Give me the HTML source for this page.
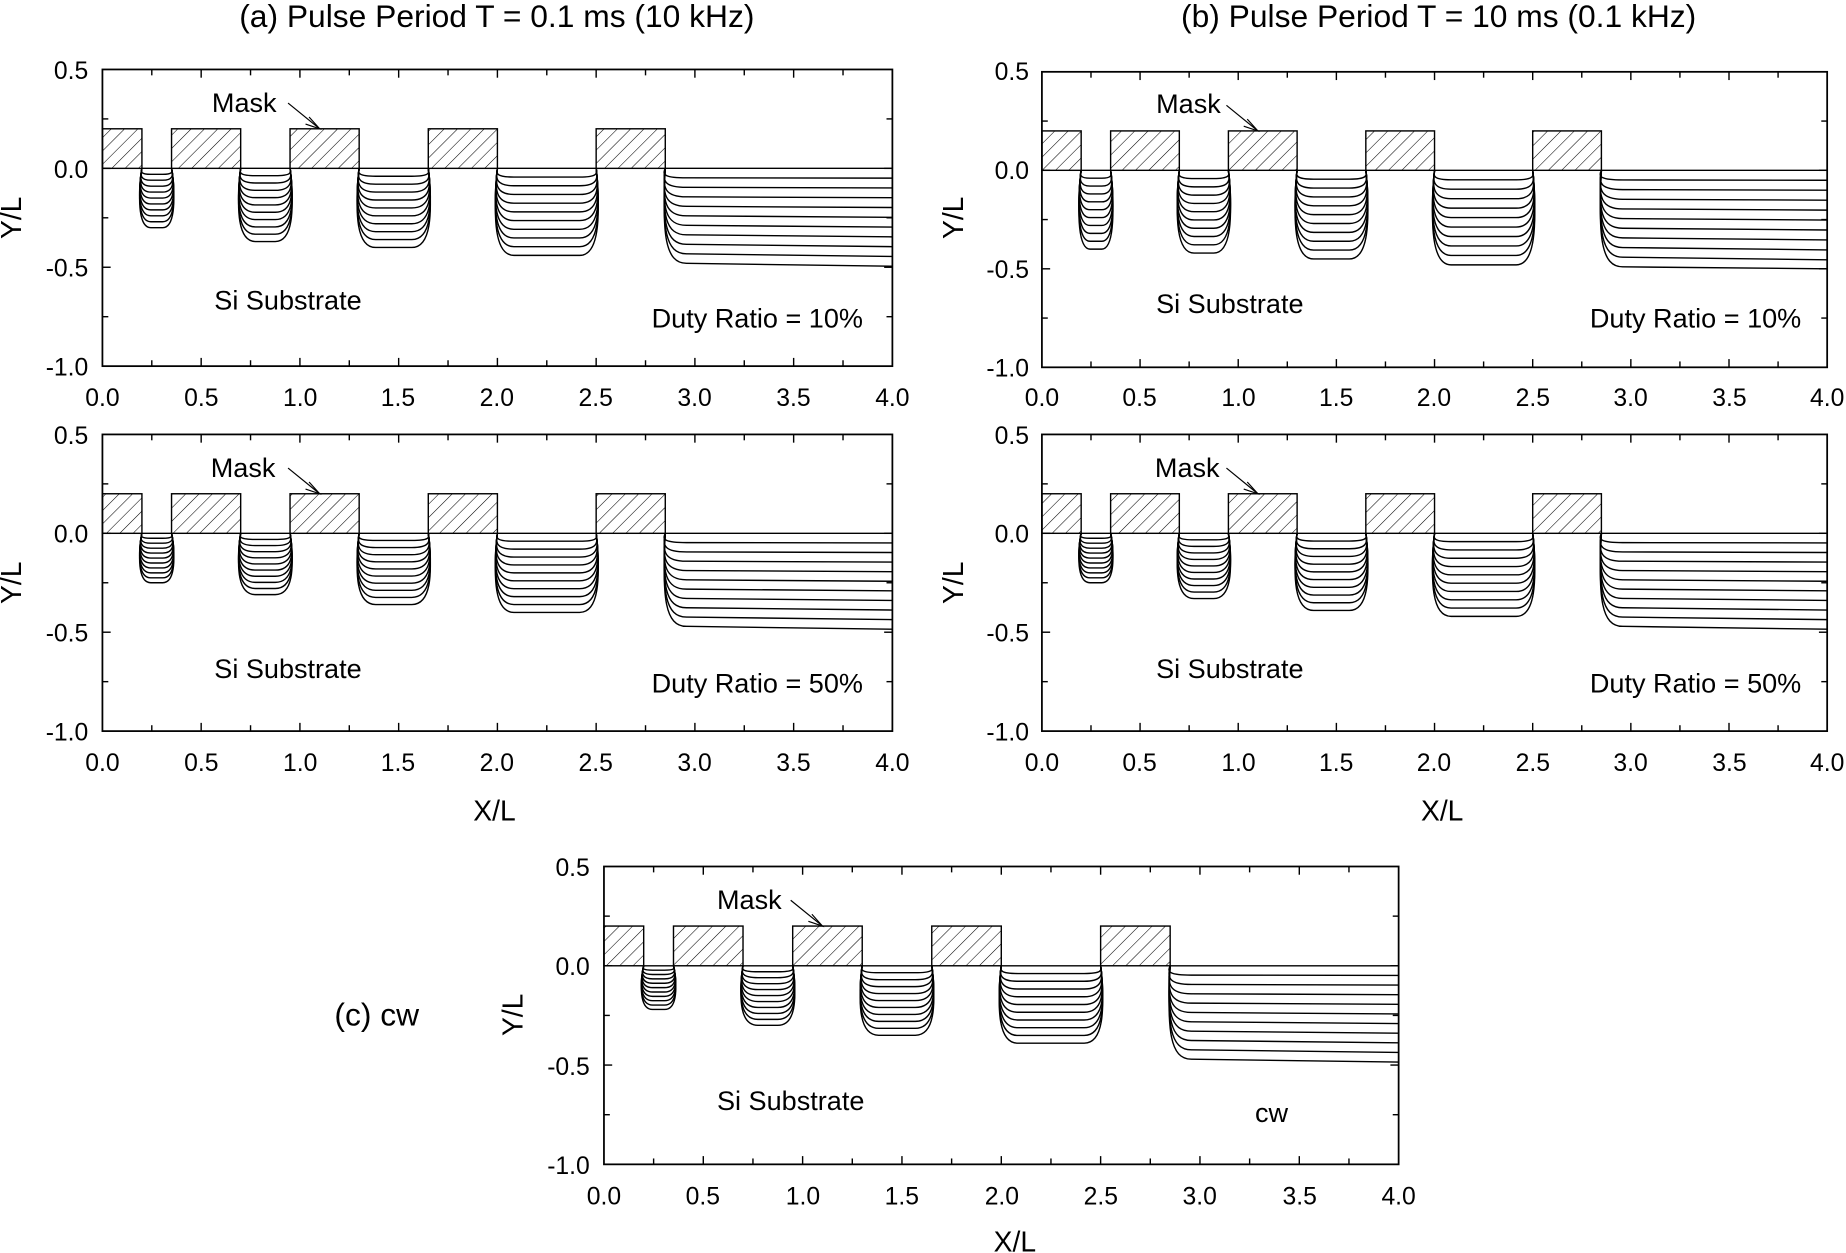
<!DOCTYPE html>
<html><head><meta charset="utf-8">
<style>
html,body{margin:0;padding:0;background:#fff;}
svg{display:block;}
text{font-family:"Liberation Sans",Arial,sans-serif;fill:#000;}
</style></head>
<body>
<svg id="s" xmlns="http://www.w3.org/2000/svg" width="1846" height="1253" viewBox="0 0 1568 1064.3">
<defs>
<pattern id="h" patternUnits="userSpaceOnUse" width="8" height="8" patternTransform="rotate(45)">
<line x1="0" y1="0" x2="0" y2="8" stroke="#000" stroke-width="0.9"/>
</pattern>
</defs>
<g id="plots" fill="none" stroke="#000"></g>
<text x="422" y="23" font-size="27" text-anchor="middle">(a) Pulse Period T = 0.1 ms (10 kHz)</text>
<text x="1222" y="23" font-size="27" text-anchor="middle">(b) Pulse Period T = 10 ms (0.1 kHz)</text>
<text x="320" y="871" font-size="27" text-anchor="middle">(c) cw</text>
<text x="420" y="697" font-size="24" text-anchor="middle">X/L</text>
<text x="1225" y="697" font-size="24" text-anchor="middle">X/L</text>
<text x="862" y="1063" font-size="24" text-anchor="middle">X/L</text>
<text x="180" y="95" font-size="23">Mask</text>
<text x="182" y="263" font-size="23">Si Substrate</text>
<text x="733" y="278" font-size="23" text-anchor="end">Duty Ratio = 10%</text>
<text x="179" y="405" font-size="23">Mask</text>
<text x="182" y="576" font-size="23">Si Substrate</text>
<text x="733" y="588" font-size="23" text-anchor="end">Duty Ratio = 50%</text>
<text x="982" y="96" font-size="23">Mask</text>
<text x="982" y="266" font-size="23">Si Substrate</text>
<text x="1530" y="278" font-size="23" text-anchor="end">Duty Ratio = 10%</text>
<text x="981" y="405" font-size="23">Mask</text>
<text x="982" y="576" font-size="23">Si Substrate</text>
<text x="1530" y="588" font-size="23" text-anchor="end">Duty Ratio = 50%</text>
<text x="609" y="772" font-size="23">Mask</text>
<text x="609" y="943" font-size="23">Si Substrate</text>
<text x="1066" y="953" font-size="23">cw</text>
<text transform="translate(18,185) rotate(-90)" font-size="24" text-anchor="middle">Y/L</text>
<text transform="translate(18,495) rotate(-90)" font-size="24" text-anchor="middle">Y/L</text>
<text transform="translate(818,185) rotate(-90)" font-size="24" text-anchor="middle">Y/L</text>
<text transform="translate(818,495) rotate(-90)" font-size="24" text-anchor="middle">Y/L</text>
<text transform="translate(444,862) rotate(-90)" font-size="24" text-anchor="middle">Y/L</text>
<g font-size="21" text-anchor="end">
<text x="75" y="67">0.5</text><text x="75" y="151">0.0</text><text x="75" y="235">-0.5</text><text x="75" y="319">-1.0</text>
<text x="75" y="377">0.5</text><text x="75" y="461">0.0</text><text x="75" y="545">-0.5</text><text x="75" y="629">-1.0</text>
<text x="874" y="68">0.5</text><text x="874" y="152">0.0</text><text x="874" y="236">-0.5</text><text x="874" y="320">-1.0</text>
<text x="874" y="377">0.5</text><text x="874" y="461">0.0</text><text x="874" y="545">-0.5</text><text x="874" y="629">-1.0</text>
<text x="501" y="744">0.5</text><text x="501" y="828">0.0</text><text x="501" y="913">-0.5</text><text x="501" y="997">-1.0</text>
</g>
<g font-size="21" text-anchor="middle">
<text x="87" y="345">0.0</text><text x="171" y="345">0.5</text><text x="255" y="345">1.0</text><text x="338" y="345">1.5</text><text x="422" y="345">2.0</text><text x="506" y="345">2.5</text><text x="590" y="345">3.0</text><text x="674" y="345">3.5</text><text x="758" y="345">4.0</text>
<text x="87" y="655">0.0</text><text x="171" y="655">0.5</text><text x="255" y="655">1.0</text><text x="338" y="655">1.5</text><text x="422" y="655">2.0</text><text x="506" y="655">2.5</text><text x="590" y="655">3.0</text><text x="674" y="655">3.5</text><text x="758" y="655">4.0</text>
<text x="885" y="345">0.0</text><text x="968" y="345">0.5</text><text x="1052" y="345">1.0</text><text x="1135" y="345">1.5</text><text x="1218" y="345">2.0</text><text x="1302" y="345">2.5</text><text x="1385" y="345">3.0</text><text x="1469" y="345">3.5</text><text x="1552" y="345">4.0</text>
<text x="885" y="655">0.0</text><text x="968" y="655">0.5</text><text x="1052" y="655">1.0</text><text x="1135" y="655">1.5</text><text x="1218" y="655">2.0</text><text x="1302" y="655">2.5</text><text x="1385" y="655">3.0</text><text x="1469" y="655">3.5</text><text x="1552" y="655">4.0</text>
<text x="513" y="1023">0.0</text><text x="597" y="1023">0.5</text><text x="682" y="1023">1.0</text><text x="766" y="1023">1.5</text><text x="851" y="1023">2.0</text><text x="935" y="1023">2.5</text><text x="1019" y="1023">3.0</text><text x="1104" y="1023">3.5</text><text x="1188" y="1023">4.0</text>
</g>
</svg>
<script>
(function(){
var NS="http://www.w3.org/2000/svg";
var g=document.getElementById("plots");
function el(n,a){var e=document.createElementNS(NS,n);for(var k in a)e.setAttribute(k,a[k]);g.appendChild(e);return e;}
var panels=[
 {x0:87,x1:758,yt:59,yb:311,d:[0.30,0.37,0.40,0.44,0.49]},
 {x0:87,x1:758,yt:369,yb:621,d:[0.25,0.31,0.36,0.40,0.48]},
 {x0:885,x1:1552,yt:61,yb:312,d:[0.40,0.42,0.45,0.48,0.50]},
 {x0:885,x1:1552,yt:369,yb:621,d:[0.25,0.33,0.39,0.42,0.48]},
 {x0:513,x1:1188,yt:736,yb:989,d:[0.22,0.30,0.35,0.39,0.48]}
];
var masks=[[0,0.2],[0.35,0.7],[0.95,1.3],[1.65,2.0],[2.5,2.85]];
var opens=[[0.2,0.35],[0.7,0.95],[1.3,1.65],[2.0,2.5]];
panels.forEach(function(p){
 var sx=(p.x1-p.x0)/4, sy=(p.yb-p.yt)/1.5;
 function X(x){return p.x0+x*sx;} function Y(y){return p.yt+(0.5-y)*sy;}
 el("rect",{x:p.x0,y:p.yt,width:p.x1-p.x0,height:p.yb-p.yt,"stroke-width":1.5});
 for(var i=1;i<16;i++){var xv=i*0.25,L=(i%2==0)?7:5;
  el("line",{x1:X(xv),y1:p.yb,x2:X(xv),y2:p.yb-L,"stroke-width":1.2});
  el("line",{x1:X(xv),y1:p.yt,x2:X(xv),y2:p.yt+L,"stroke-width":1.2});}
 for(var j=1;j<6;j++){var yv=0.5-j*0.25,L2=(j%2==0)?7:5;
  el("line",{x1:p.x0,y1:Y(yv),x2:p.x0+L2,y2:Y(yv),"stroke-width":1.2});
  el("line",{x1:p.x1,y1:Y(yv),x2:p.x1-L2,y2:Y(yv),"stroke-width":1.2});}
 masks.forEach(function(m){
  el("rect",{x:X(m[0]),y:Y(0.2),width:(m[1]-m[0])*sx,height:0.2*sy,fill:"url(#h)","stroke-width":1.2});
 });
 el("line",{x1:X(2.85),y1:Y(0),x2:p.x1,y2:Y(0),"stroke-width":1.2});
 var n=10;
 opens.forEach(function(o,idx){
  var D=p.d[idx];
  for(var k=1;k<=n;k++){
   var d=D*k/n, xl=X(o[0]), xr=X(o[1]), yb=Y(-d), y0=Y(0);
   var bul=Math.min(4,1+k*0.4), r=Math.min(14,(xr-xl)*0.3);
   var path="M"+xl+","+y0+" C"+(xl-bul)+","+(y0+(yb-y0)*0.6)+" "+(xl-bul*0.5)+","+yb+" "+(xl+r)+","+yb+
     " L"+(xr-r)+","+yb+" C"+(xr+bul*0.5)+","+yb+" "+(xr+bul)+","+(y0+(yb-y0)*0.6)+" "+xr+","+y0;
   el("path",{d:path,"stroke-width":1.2});
  }
  el("line",{x1:X(o[0]),y1:Y(0),x2:X(o[1]),y2:Y(0),"stroke-width":1.2});
 });
 var D=p.d[4];
 for(var k=1;k<=n;k++){
  var d=D*k/n, xl=X(2.85), y0=Y(0), yb=Y(-d*0.98), ye=Y(-Math.min(d*1.01,0.5));
  var path="M"+xl+","+y0+" C"+(xl-3)+","+(y0+(yb-y0)*0.7)+" "+(xl)+","+yb+" "+(xl+18)+","+yb+" L"+p.x1+","+ye;
  el("path",{d:path,"stroke-width":1.2});
 }
 var ax=X(0.94),ay=Y(0.33),bx=X(1.10),by=Y(0.2);
 el("line",{x1:ax,y1:ay,x2:bx,y2:by,"stroke-width":1});
 el("path",{d:"M"+(bx-9)+","+(by-10)+" L"+bx+","+by+" L"+(bx-12)+","+(by-4),"stroke-width":1});
});
})();
</script>
</body></html>
